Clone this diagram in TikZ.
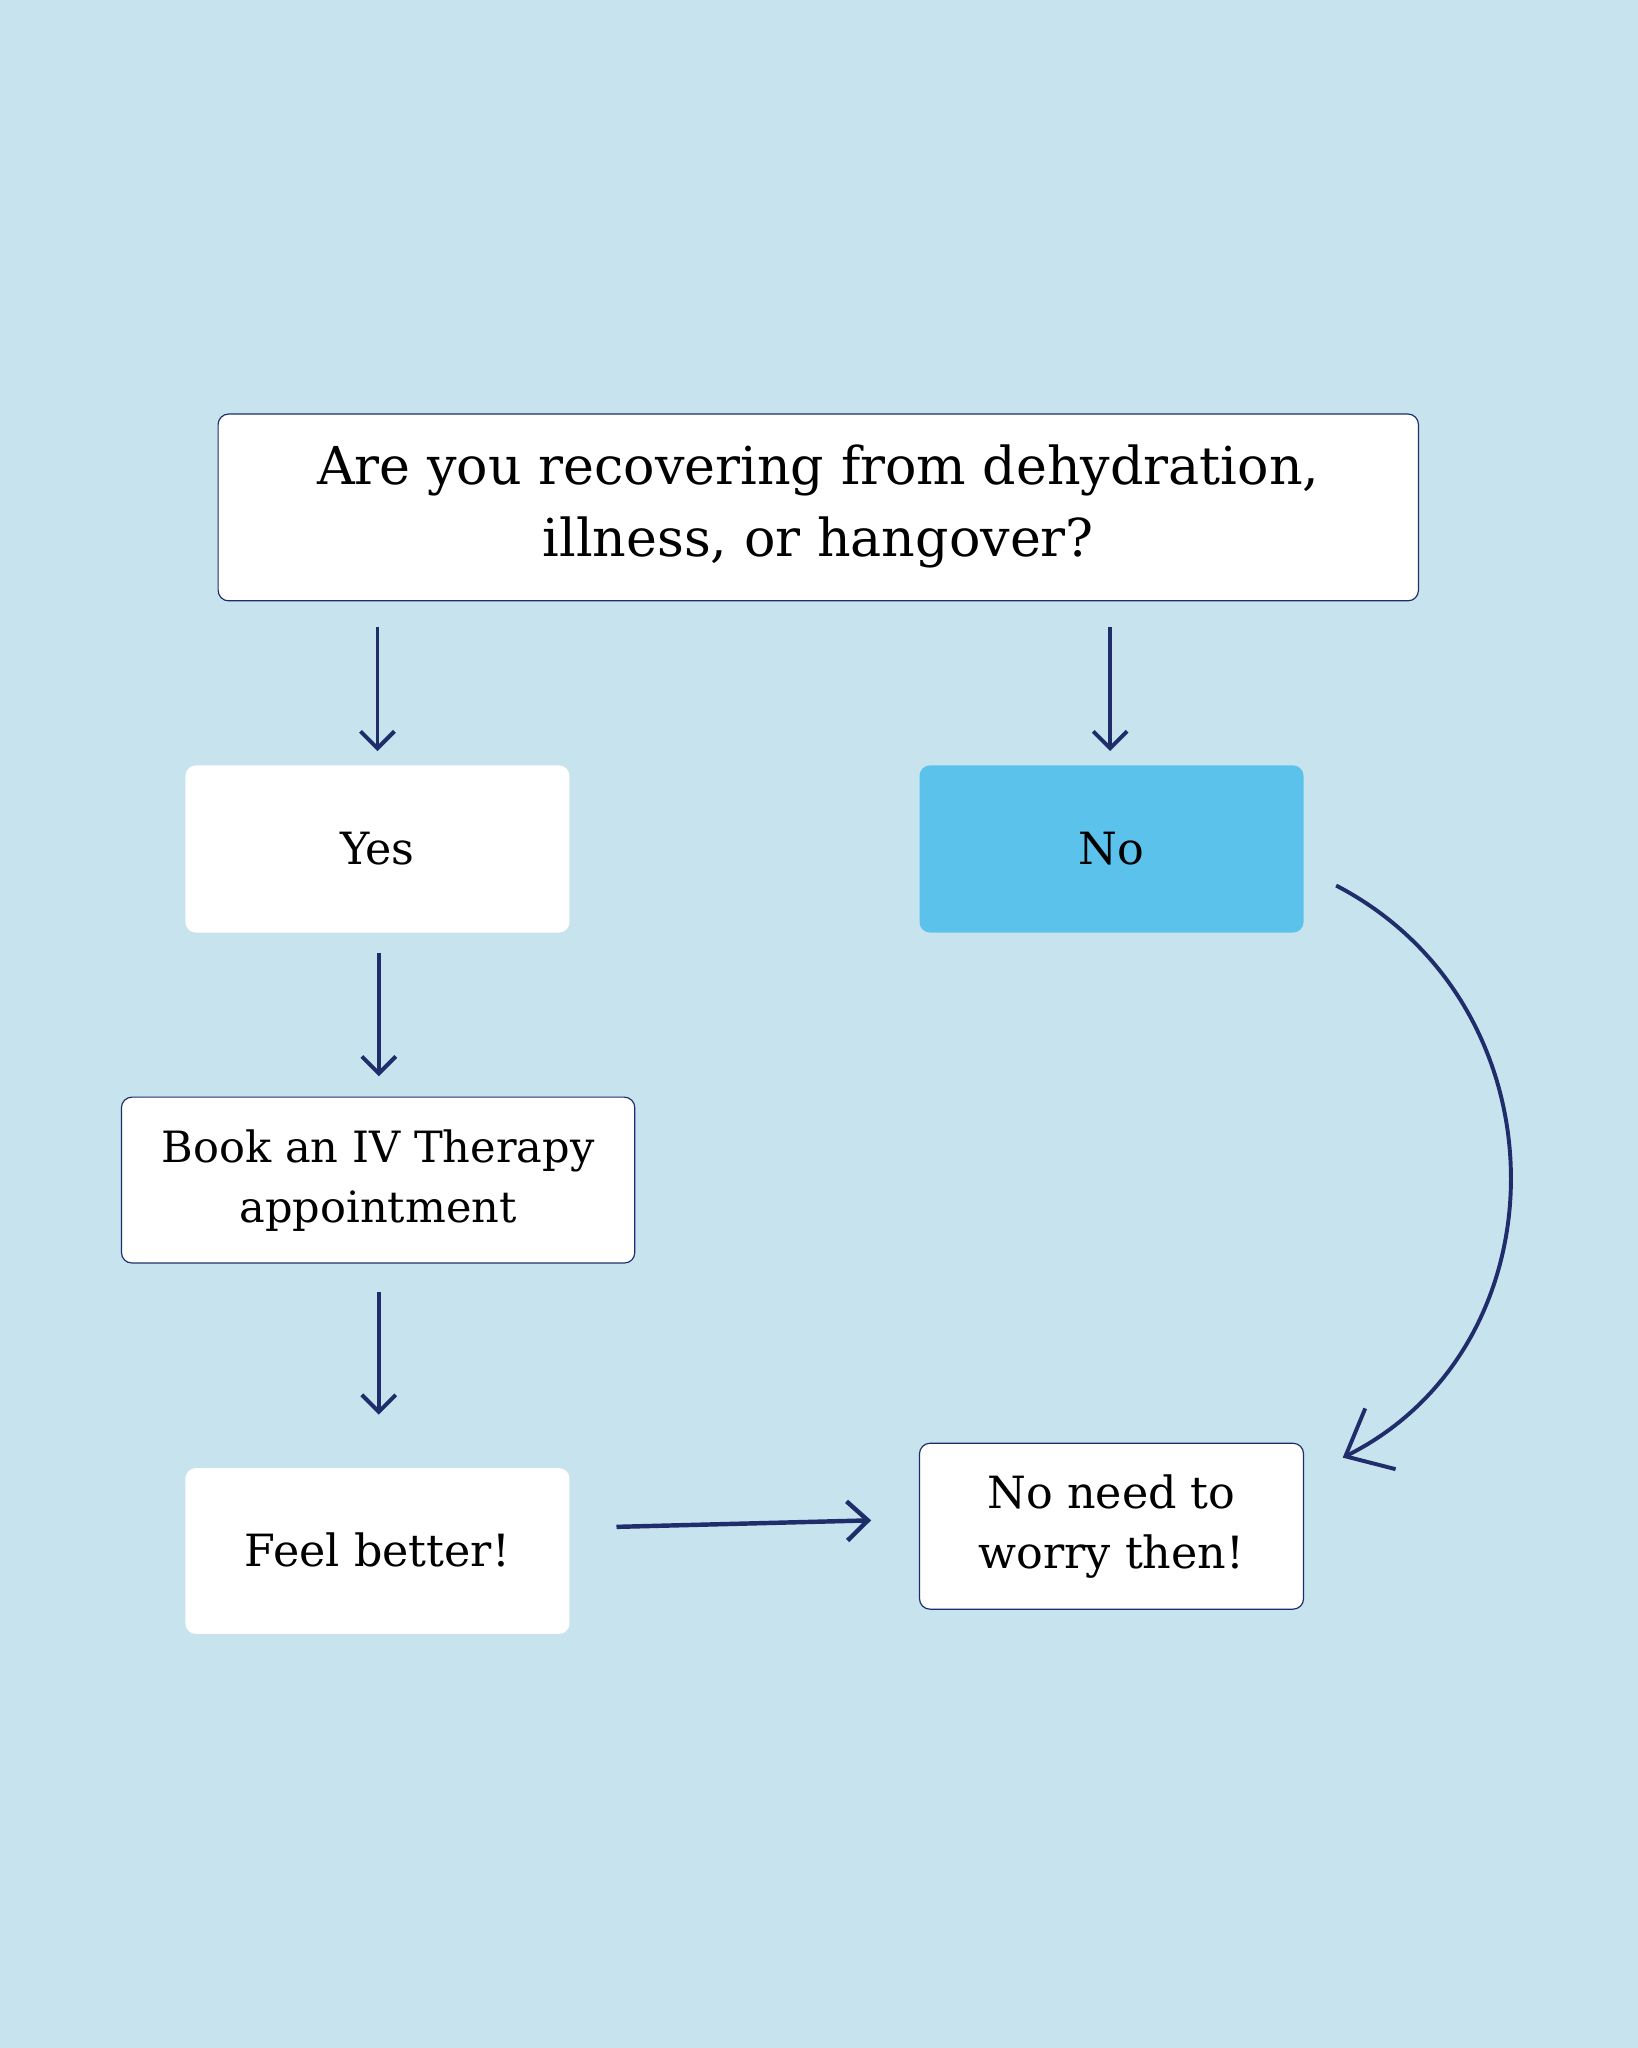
\documentclass[tikz,border=0pt]{standalone}
\usepackage{fontspec}
\setmainfont{DejaVu Serif}
\usetikzlibrary{arrows.meta}
\definecolor{bg}{HTML}{C7E3EE}
\definecolor{navy}{HTML}{1F2D6B}
\definecolor{sky}{HTML}{5BC2EC}
\begin{document}
\begin{tikzpicture}[x=1pt,y=-1pt,
  box/.style={rounded corners=8pt,fill=white},
  bord/.style={draw=navy,line width=0.9pt},
  arr/.style={draw=navy,line width=3pt,-{Straight Barb[length=13pt,width=26pt,line width=3pt]}},
  txt/.style={font=\fontsize{34}{46}\selectfont,align=center,text=black}]
\fill[bg] (0,0) rectangle (1254,1568);
\useasboundingbox (0,0) rectangle (1254,1568);
\draw[box,bord] (167,317) rectangle (1086,460);
\node[txt,font=\fontsize{40}{55}\selectfont] (q) at (626.5,388) {Are you recovering from dehydration,\\illness, or hangover?};
\fill[box] (142,586) rectangle (436,714);
\node[txt] (yes) at (289,650) {Yes};
\fill[box,fill=sky] (704,586) rectangle (998,714);
\node[txt] (no) at (851,650) {No};
\draw[box,bord] (93,840) rectangle (486,967);
\node[txt,font=\fontsize{33}{46}\selectfont] (book) at (289.5,904) {Book an IV Therapy\\appointment};
\fill[box] (142,1124) rectangle (436,1251);
\node[txt] (feel) at (289,1187) {Feel better!};
\draw[box,bord] (704,1105) rectangle (998,1232);
\node[txt] (noneed) at (851,1169) {No need to\\worry then!};
\coordinate (a1s) at (289,480); \coordinate (a1e) at (289,575);
\coordinate (a2s) at (850,480); \coordinate (a2e) at (850,575);
\coordinate (a3s) at (290,730); \coordinate (a3e) at (290,824);
\coordinate (a4s) at (290,989); \coordinate (a4e) at (290,1083);
\coordinate (a5s) at (472,1169); \coordinate (a5e) at (667,1164);
\coordinate (cs) at (1023,678); \coordinate (ce) at (1028,1116);
\draw[arr] (a1s) -- (a1e);
\draw[arr] (a2s) -- (a2e);
\draw[arr] (a3s) -- (a3e);
\draw[arr] (a4s) -- (a4e);
\draw[arr,line width=3.4pt,-{Straight Barb[length=16pt,width=30pt,line width=3.4pt]}] (a5s) -- (a5e);
\draw[arr,-{Straight Barb[length=30pt,width=52pt,line width=3pt]}] (cs) .. controls (1200,770) and (1200,1030) .. (ce);
\end{tikzpicture}
\end{document}
